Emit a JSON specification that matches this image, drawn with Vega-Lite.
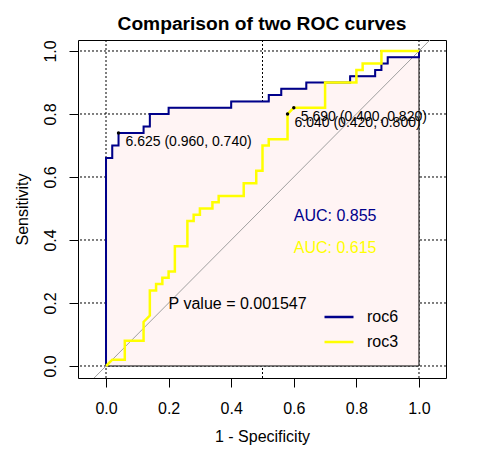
{
  "$schema": "https://vega.github.io/schema/vega-lite/v6.json",
  "width": 368,
  "height": 338,
  "autosize": "none",
  "padding": {"left": 78, "top": 40, "right": 41, "bottom": 79},
  "background": "white",
  "title": {
    "text": "Comparison of two ROC curves",
    "font": "Liberation Sans",
    "fontSize": 19.2,
    "fontWeight": "bold",
    "color": "black",
    "anchor": "middle",
    "frame": "group",
    "baseline": "alphabetic",
    "offset": 12,
    "dy": 23
  },
  "config": {
    "view": {"stroke": "black", "strokeWidth": 1},
    "font": "Liberation Sans",
    "axis": {
      "domain": false,
      "grid": false,
      "ticks": true,
      "tickColor": "black",
      "tickSize": 9,
      "labelFont": "Liberation Sans",
      "labelFontSize": 16,
      "labelColor": "black",
      "labelFlush": false,
      "labelOverlap": false,
      "titleFont": "Liberation Sans",
      "titleFontSize": 16,
      "titleFontWeight": "normal",
      "titleColor": "black",
      "titlePadding": 12
    },
    "axisX": {"labelPadding": 13},
    "axisY": {"labelAngle": -90, "labelAlign": "center", "labelBaseline": "alphabetic", "labelPadding": 14}
  },
  "datasets": {
    "roc": [
      {"roc": "roc6", "fpr": 0, "sens": 0},
      {"roc": "roc6", "fpr": 0, "sens": 0.66},
      {"roc": "roc6", "fpr": 0.02, "sens": 0.66},
      {"roc": "roc6", "fpr": 0.02, "sens": 0.70},
      {"roc": "roc6", "fpr": 0.04, "sens": 0.70},
      {"roc": "roc6", "fpr": 0.04, "sens": 0.74},
      {"roc": "roc6", "fpr": 0.12, "sens": 0.74},
      {"roc": "roc6", "fpr": 0.12, "sens": 0.76},
      {"roc": "roc6", "fpr": 0.14, "sens": 0.76},
      {"roc": "roc6", "fpr": 0.14, "sens": 0.80},
      {"roc": "roc6", "fpr": 0.20, "sens": 0.80},
      {"roc": "roc6", "fpr": 0.20, "sens": 0.82},
      {"roc": "roc6", "fpr": 0.40, "sens": 0.82},
      {"roc": "roc6", "fpr": 0.40, "sens": 0.84},
      {"roc": "roc6", "fpr": 0.52, "sens": 0.84},
      {"roc": "roc6", "fpr": 0.52, "sens": 0.86},
      {"roc": "roc6", "fpr": 0.56, "sens": 0.86},
      {"roc": "roc6", "fpr": 0.56, "sens": 0.88},
      {"roc": "roc6", "fpr": 0.64, "sens": 0.88},
      {"roc": "roc6", "fpr": 0.64, "sens": 0.90},
      {"roc": "roc6", "fpr": 0.78, "sens": 0.90},
      {"roc": "roc6", "fpr": 0.78, "sens": 0.92},
      {"roc": "roc6", "fpr": 0.86, "sens": 0.92},
      {"roc": "roc6", "fpr": 0.86, "sens": 0.94},
      {"roc": "roc6", "fpr": 0.88, "sens": 0.94},
      {"roc": "roc6", "fpr": 0.88, "sens": 0.96},
      {"roc": "roc6", "fpr": 0.90, "sens": 0.96},
      {"roc": "roc6", "fpr": 0.90, "sens": 0.98},
      {"roc": "roc6", "fpr": 1, "sens": 0.98},
      {"roc": "roc6", "fpr": 1, "sens": 1},
      {"roc": "roc3", "fpr": 0, "sens": 0},
      {"roc": "roc3", "fpr": 0.02, "sens": 0.02},
      {"roc": "roc3", "fpr": 0.06, "sens": 0.02},
      {"roc": "roc3", "fpr": 0.06, "sens": 0.08},
      {"roc": "roc3", "fpr": 0.12, "sens": 0.08},
      {"roc": "roc3", "fpr": 0.12, "sens": 0.14},
      {"roc": "roc3", "fpr": 0.14, "sens": 0.16},
      {"roc": "roc3", "fpr": 0.14, "sens": 0.24},
      {"roc": "roc3", "fpr": 0.16, "sens": 0.24},
      {"roc": "roc3", "fpr": 0.16, "sens": 0.26},
      {"roc": "roc3", "fpr": 0.18, "sens": 0.26},
      {"roc": "roc3", "fpr": 0.18, "sens": 0.28},
      {"roc": "roc3", "fpr": 0.20, "sens": 0.28},
      {"roc": "roc3", "fpr": 0.20, "sens": 0.30},
      {"roc": "roc3", "fpr": 0.22, "sens": 0.30},
      {"roc": "roc3", "fpr": 0.22, "sens": 0.38},
      {"roc": "roc3", "fpr": 0.26, "sens": 0.38},
      {"roc": "roc3", "fpr": 0.26, "sens": 0.46},
      {"roc": "roc3", "fpr": 0.28, "sens": 0.46},
      {"roc": "roc3", "fpr": 0.28, "sens": 0.48},
      {"roc": "roc3", "fpr": 0.30, "sens": 0.48},
      {"roc": "roc3", "fpr": 0.30, "sens": 0.50},
      {"roc": "roc3", "fpr": 0.34, "sens": 0.50},
      {"roc": "roc3", "fpr": 0.34, "sens": 0.52},
      {"roc": "roc3", "fpr": 0.36, "sens": 0.52},
      {"roc": "roc3", "fpr": 0.36, "sens": 0.54},
      {"roc": "roc3", "fpr": 0.44, "sens": 0.54},
      {"roc": "roc3", "fpr": 0.44, "sens": 0.58},
      {"roc": "roc3", "fpr": 0.48, "sens": 0.58},
      {"roc": "roc3", "fpr": 0.48, "sens": 0.62},
      {"roc": "roc3", "fpr": 0.50, "sens": 0.62},
      {"roc": "roc3", "fpr": 0.50, "sens": 0.70},
      {"roc": "roc3", "fpr": 0.52, "sens": 0.70},
      {"roc": "roc3", "fpr": 0.52, "sens": 0.72},
      {"roc": "roc3", "fpr": 0.58, "sens": 0.72},
      {"roc": "roc3", "fpr": 0.58, "sens": 0.80},
      {"roc": "roc3", "fpr": 0.60, "sens": 0.82},
      {"roc": "roc3", "fpr": 0.70, "sens": 0.82},
      {"roc": "roc3", "fpr": 0.70, "sens": 0.90},
      {"roc": "roc3", "fpr": 0.80, "sens": 0.90},
      {"roc": "roc3", "fpr": 0.80, "sens": 0.94},
      {"roc": "roc3", "fpr": 0.82, "sens": 0.94},
      {"roc": "roc3", "fpr": 0.82, "sens": 0.96},
      {"roc": "roc3", "fpr": 0.88, "sens": 0.96},
      {"roc": "roc3", "fpr": 0.88, "sens": 1},
      {"roc": "roc3", "fpr": 1, "sens": 1}
    ],
    "thresholds": [
      {"roc": "roc6", "fpr": 0.04, "sens": 0.74, "label": "6.625 (0.960, 0.740)"},
      {"roc": "roc3", "fpr": 0.60, "sens": 0.82, "label": "5.690 (0.400, 0.820)"},
      {"roc": "roc3", "fpr": 0.58, "sens": 0.80, "label": "6.040 (0.420, 0.800)"}
    ]
  },
  "layer": [
    {
      "data": {"values": [{"fpr": 0}, {"fpr": 0.5}, {"fpr": 1}]},
      "mark": {"type": "rule", "color": "black", "strokeWidth": 1, "strokeDash": [2, 2]},
      "encoding": {
        "x": {"field": "fpr", "type": "quantitative", "scale": {"domain": [-0.0895, 1.0863], "nice": false, "zero": false}, "axis": {"title": "1 - Specificity", "values": [0, 0.2, 0.4, 0.6, 0.8, 1], "format": ".1f"}}
      }
    },
    {
      "data": {"values": [{"sens": 0}, {"sens": 0.2}, {"sens": 0.4}, {"sens": 0.6}, {"sens": 0.8}, {"sens": 1}]},
      "mark": {"type": "rule", "color": "black", "strokeWidth": 1, "strokeDash": [2, 2]},
      "encoding": {
        "y": {"field": "sens", "type": "quantitative", "scale": {"domain": [-0.0381, 1.0349], "nice": false, "zero": false}, "axis": {"title": "Sensitivity", "values": [0, 0.2, 0.4, 0.6, 0.8, 1], "format": ".1f"}}
      }
    },
    {
      "data": {"name": "roc"},
      "transform": [{"filter": "datum.roc == 'roc6'"}],
      "mark": {"type": "area", "fill": "#fff4f4", "stroke": "black", "strokeWidth": 1, "interpolate": "linear"},
      "encoding": {
        "x": {"field": "fpr", "type": "quantitative", "scale": {"domain": [-0.0895, 1.0863], "nice": false, "zero": false}, "axis": {"title": "1 - Specificity", "values": [0, 0.2, 0.4, 0.6, 0.8, 1], "format": ".1f"}},
        "y": {"field": "sens", "type": "quantitative", "stack": null, "scale": {"domain": [-0.0381, 1.0349], "nice": false, "zero": false}, "axis": {"title": "Sensitivity", "values": [0, 0.2, 0.4, 0.6, 0.8, 1], "format": ".1f"}},
        "order": {"value": null}
      }
    },
    {
      "data": {"values": [{"fpr": -0.0381, "sens": -0.0381}, {"fpr": 1.0349, "sens": 1.0349}]},
      "mark": {"type": "line", "color": "#a0a0a0", "strokeWidth": 1},
      "encoding": {
        "x": {"field": "fpr", "type": "quantitative", "scale": {"domain": [-0.0895, 1.0863], "nice": false, "zero": false}, "axis": {"title": "1 - Specificity", "values": [0, 0.2, 0.4, 0.6, 0.8, 1], "format": ".1f"}},
        "y": {"field": "sens", "type": "quantitative", "scale": {"domain": [-0.0381, 1.0349], "nice": false, "zero": false}, "axis": {"title": "Sensitivity", "values": [0, 0.2, 0.4, 0.6, 0.8, 1], "format": ".1f"}}
      }
    },
    {
      "data": {"name": "roc"},
      "transform": [{"filter": "datum.roc == 'roc6'"}],
      "mark": {"type": "line", "strokeWidth": 2, "interpolate": "linear"},
      "encoding": {
        "x": {"field": "fpr", "type": "quantitative", "scale": {"domain": [-0.0895, 1.0863], "nice": false, "zero": false}, "axis": {"title": "1 - Specificity", "values": [0, 0.2, 0.4, 0.6, 0.8, 1], "format": ".1f"}},
        "y": {"field": "sens", "type": "quantitative", "scale": {"domain": [-0.0381, 1.0349], "nice": false, "zero": false}, "axis": {"title": "Sensitivity", "values": [0, 0.2, 0.4, 0.6, 0.8, 1], "format": ".1f"}},
        "color": {
          "field": "roc", "type": "nominal",
          "scale": {"domain": ["roc6", "roc3"], "range": ["#00008b", "#ffff00"]},
          "legend": {
            "title": null,
            "orient": "none",
            "legendX": 245,
            "legendY": 261,
            "padding": 0,
            "symbolType": "stroke",
            "symbolSize": 841,
            "symbolStrokeWidth": 2.5,
            "symbolOffset": 0,
            "labelFont": "Liberation Sans",
            "labelFontSize": 16,
            "labelColor": "black",
            "labelOffset": 12,
            "rowPadding": 1
          }
        },
        "order": {"value": null}
      }
    },
    {
      "data": {"name": "roc"},
      "transform": [{"filter": "datum.roc == 'roc3'"}],
      "mark": {"type": "line", "strokeWidth": 2.5, "interpolate": "linear"},
      "encoding": {
        "x": {"field": "fpr", "type": "quantitative", "scale": {"domain": [-0.0895, 1.0863], "nice": false, "zero": false}, "axis": {"title": "1 - Specificity", "values": [0, 0.2, 0.4, 0.6, 0.8, 1], "format": ".1f"}},
        "y": {"field": "sens", "type": "quantitative", "scale": {"domain": [-0.0381, 1.0349], "nice": false, "zero": false}, "axis": {"title": "Sensitivity", "values": [0, 0.2, 0.4, 0.6, 0.8, 1], "format": ".1f"}},
        "color": {"field": "roc", "type": "nominal", "scale": {"domain": ["roc6", "roc3"], "range": ["#00008b", "#ffff00"]}},
        "order": {"value": null}
      }
    },
    {
      "data": {"name": "thresholds"},
      "mark": {"type": "point", "filled": true, "color": "black", "size": 12, "opacity": 1},
      "encoding": {
        "x": {"field": "fpr", "type": "quantitative", "scale": {"domain": [-0.0895, 1.0863], "nice": false, "zero": false}, "axis": {"title": "1 - Specificity", "values": [0, 0.2, 0.4, 0.6, 0.8, 1], "format": ".1f"}},
        "y": {"field": "sens", "type": "quantitative", "scale": {"domain": [-0.0381, 1.0349], "nice": false, "zero": false}, "axis": {"title": "Sensitivity", "values": [0, 0.2, 0.4, 0.6, 0.8, 1], "format": ".1f"}}
      }
    },
    {
      "data": {"name": "thresholds"},
      "mark": {"type": "text", "align": "left", "baseline": "middle", "dx": 7, "dy": 9, "fontSize": 14, "font": "Liberation Sans", "color": "black"},
      "encoding": {
        "x": {"field": "fpr", "type": "quantitative", "scale": {"domain": [-0.0895, 1.0863], "nice": false, "zero": false}, "axis": {"title": "1 - Specificity", "values": [0, 0.2, 0.4, 0.6, 0.8, 1], "format": ".1f"}},
        "y": {"field": "sens", "type": "quantitative", "scale": {"domain": [-0.0381, 1.0349], "nice": false, "zero": false}, "axis": {"title": "Sensitivity", "values": [0, 0.2, 0.4, 0.6, 0.8, 1], "format": ".1f"}},
        "text": {"field": "label"}
      }
    },
    {
      "data": {"values": [{"fpr": 0.6, "sens": 0.475, "label": "AUC: 0.855"}]},
      "mark": {"type": "text", "align": "left", "baseline": "middle", "fontSize": 16, "font": "Liberation Sans", "color": "#00008b"},
      "encoding": {
        "x": {"field": "fpr", "type": "quantitative", "scale": {"domain": [-0.0895, 1.0863], "nice": false, "zero": false}, "axis": {"title": "1 - Specificity", "values": [0, 0.2, 0.4, 0.6, 0.8, 1], "format": ".1f"}},
        "y": {"field": "sens", "type": "quantitative", "scale": {"domain": [-0.0381, 1.0349], "nice": false, "zero": false}, "axis": {"title": "Sensitivity", "values": [0, 0.2, 0.4, 0.6, 0.8, 1], "format": ".1f"}},
        "text": {"field": "label"}
      }
    },
    {
      "data": {"values": [{"fpr": 0.6, "sens": 0.376, "label": "AUC: 0.615"}]},
      "mark": {"type": "text", "align": "left", "baseline": "middle", "fontSize": 16, "font": "Liberation Sans", "color": "#ffff00"},
      "encoding": {
        "x": {"field": "fpr", "type": "quantitative", "scale": {"domain": [-0.0895, 1.0863], "nice": false, "zero": false}, "axis": {"title": "1 - Specificity", "values": [0, 0.2, 0.4, 0.6, 0.8, 1], "format": ".1f"}},
        "y": {"field": "sens", "type": "quantitative", "scale": {"domain": [-0.0381, 1.0349], "nice": false, "zero": false}, "axis": {"title": "Sensitivity", "values": [0, 0.2, 0.4, 0.6, 0.8, 1], "format": ".1f"}},
        "text": {"field": "label"}
      }
    },
    {
      "data": {"values": [{"fpr": 0.2, "sens": 0.197, "label": "P value = 0.001547"}]},
      "mark": {"type": "text", "align": "left", "baseline": "middle", "fontSize": 16, "font": "Liberation Sans", "color": "black"},
      "encoding": {
        "x": {"field": "fpr", "type": "quantitative", "scale": {"domain": [-0.0895, 1.0863], "nice": false, "zero": false}, "axis": {"title": "1 - Specificity", "values": [0, 0.2, 0.4, 0.6, 0.8, 1], "format": ".1f"}},
        "y": {"field": "sens", "type": "quantitative", "scale": {"domain": [-0.0381, 1.0349], "nice": false, "zero": false}, "axis": {"title": "Sensitivity", "values": [0, 0.2, 0.4, 0.6, 0.8, 1], "format": ".1f"}},
        "text": {"field": "label"}
      }
    }
  ]
}
